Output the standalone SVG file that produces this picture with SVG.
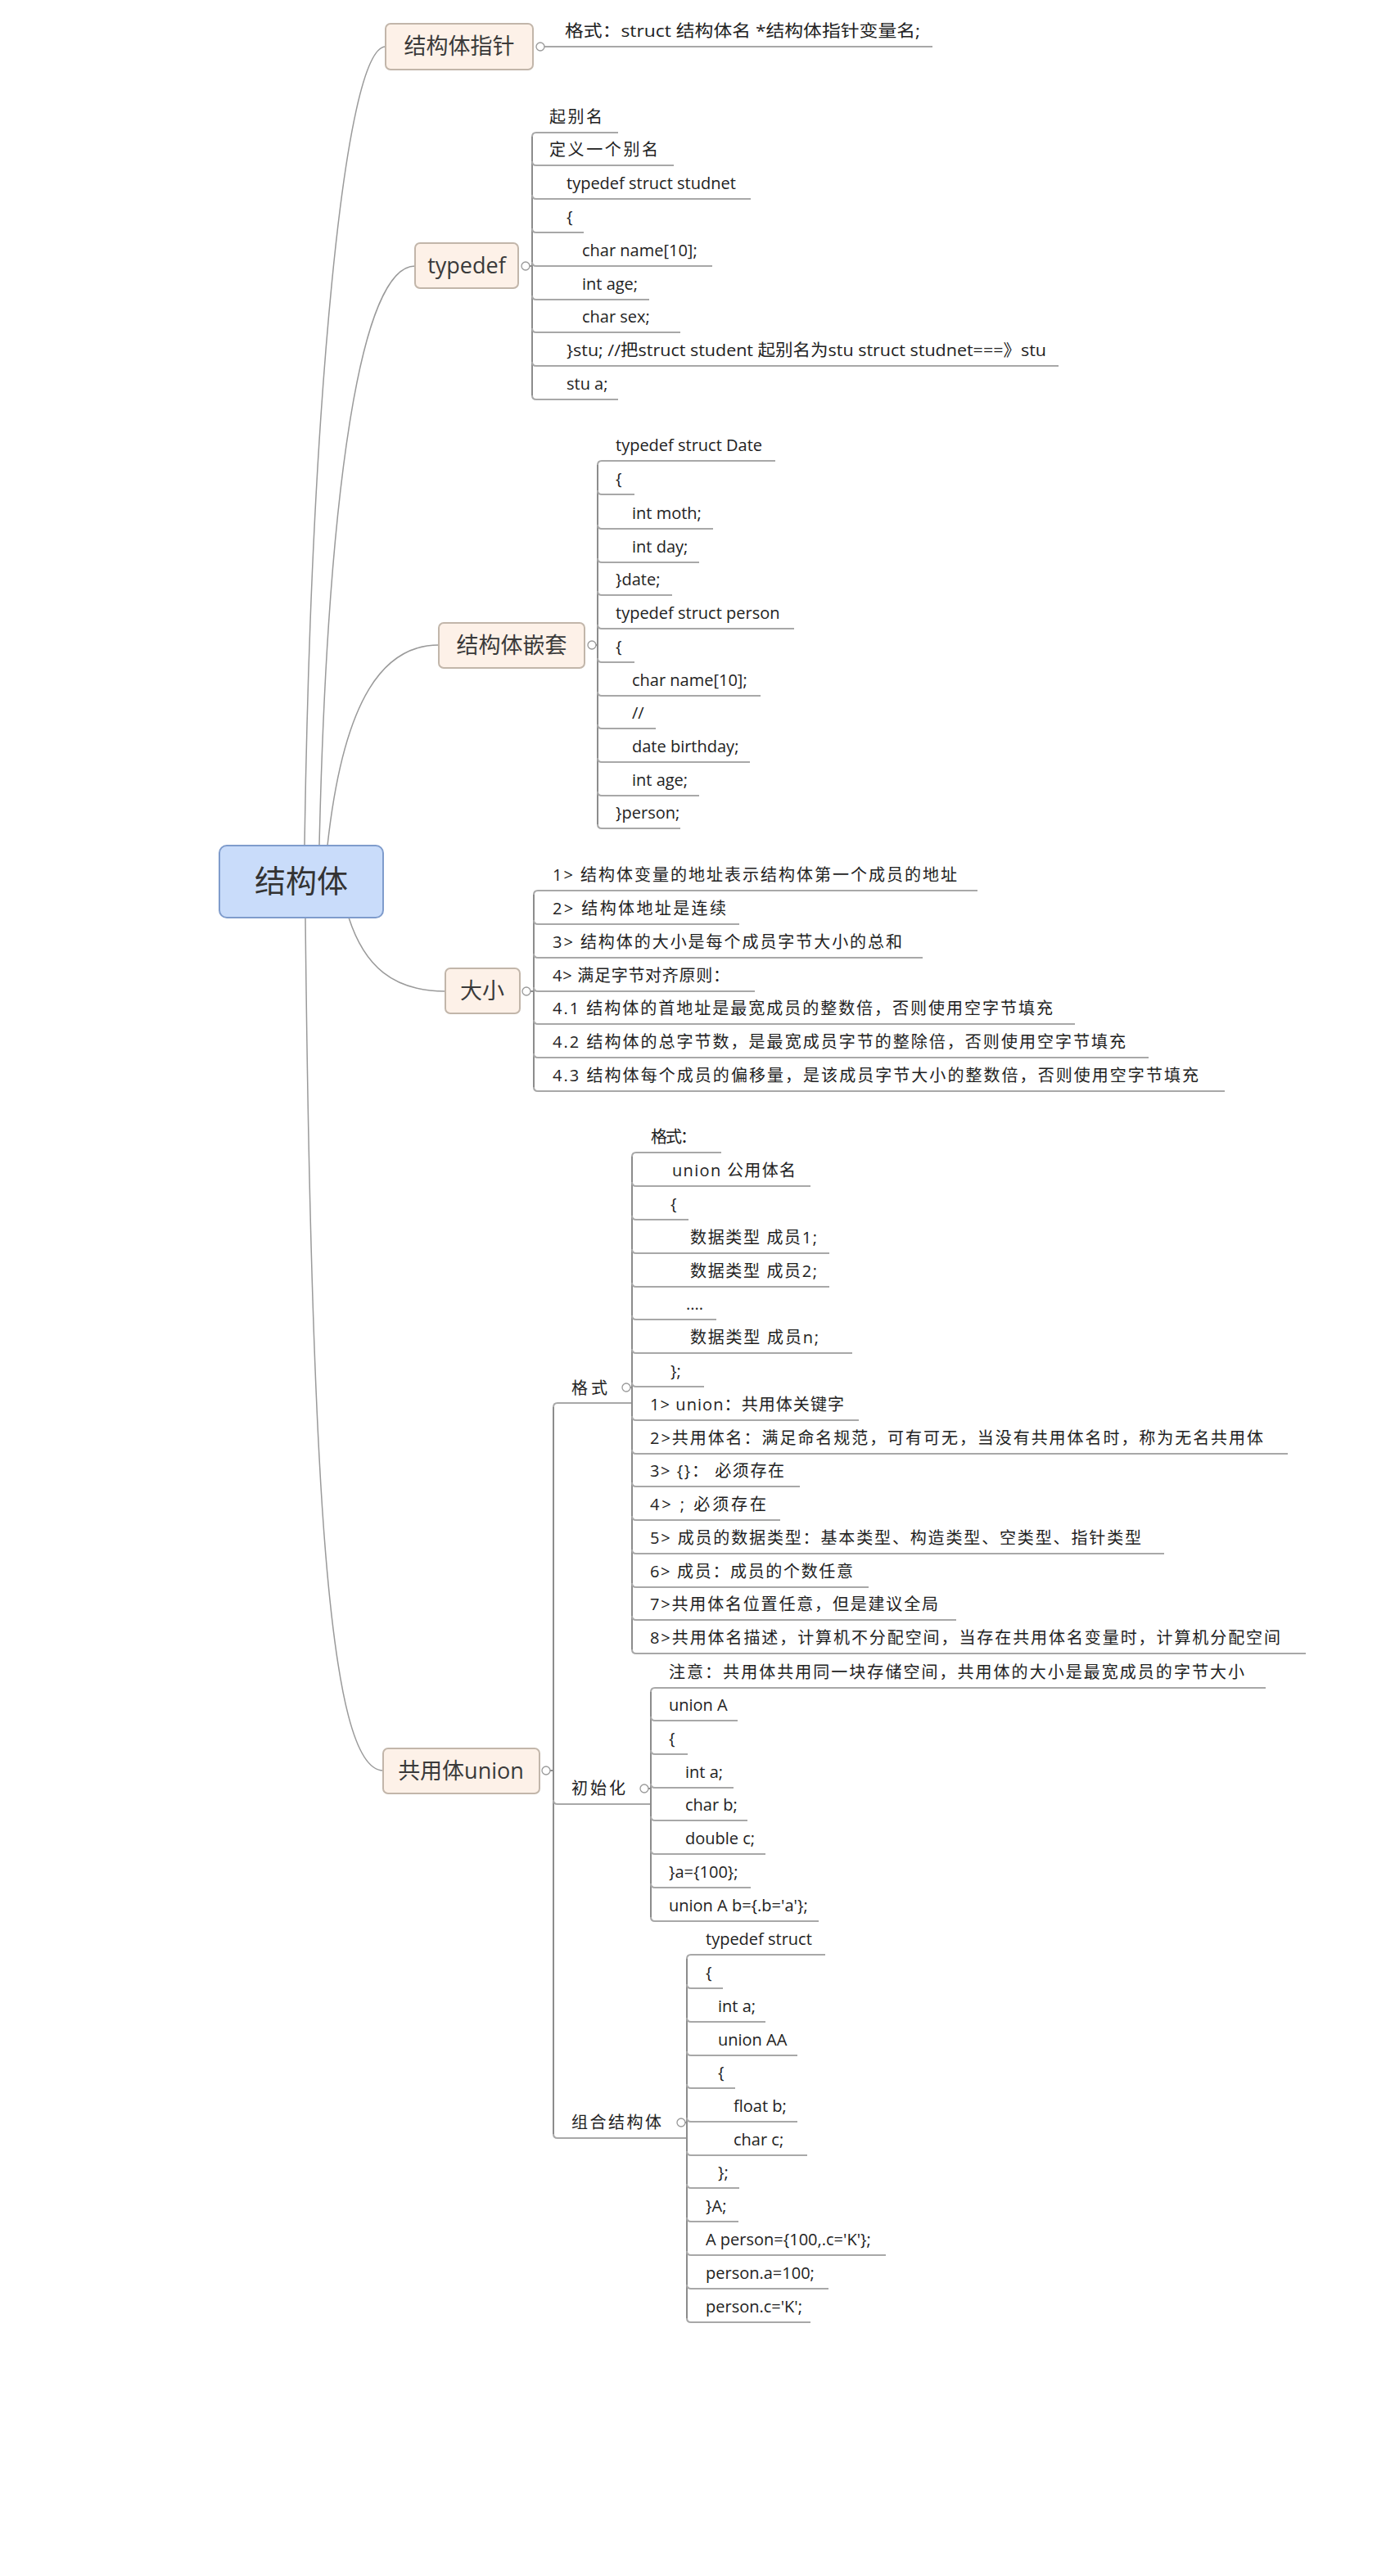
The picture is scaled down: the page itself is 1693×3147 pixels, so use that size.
<svg xmlns="http://www.w3.org/2000/svg" width="1693" height="3147" viewBox="0 0 1693 3147">
<style>
.t{font-family:"Open Sans","Noto Sans CJK SC",sans-serif;font-size:20px;fill:#222}
.b{font-family:"Open Sans","Noto Sans CJK SC",sans-serif;font-size:27px;fill:#3a3a3a}
.r{font-family:"Noto Sans CJK SC",sans-serif;font-size:38px;fill:#333}
.box{fill:#fdf1e8;stroke:#c2b6aa;stroke-width:2}
.ul{fill:none;stroke:#a8a8a8;stroke-width:2}
.vl{fill:none;stroke:#8c8c8c;stroke-width:2}
.mc{fill:none;stroke:#9a9a9a;stroke-width:1.5}
.cc{fill:#fff;stroke:#999;stroke-width:1.3}
</style>
<rect width="1693" height="3147" fill="#fff"/>
<g id="connectors">
<path class="mc" d="M372,1033 C380,500 420,57 471,57"/>
<path class="mc" d="M390,1033 C400,600 440,325 507,325"/>
<path class="mc" d="M400,1033 C420,850 470,788 536,788"/>
<path class="mc" d="M426,1121 C445,1180 480,1211 544,1211"/>
<path class="mc" d="M373,1121 C380,1800 400,2163 468,2163"/>
<!-- 结构体指针 -->
<path class="ul" d="M660,57 H1139"/>
<!-- typedef -->
<path class="vl" d="M642,325 H650 M650,167 V483"/>
<path class="ul" d="M650,167 Q650,162 655,162 H755 M650,197 Q650,202 655,202 H823 M650,238 Q650,243 655,243 H917 M650,279 Q650,284 655,284 H713 M650,320 Q650,325 655,325 H870 M650,361 Q650,366 655,366 H793 M650,401 Q650,406 655,406 H831 M650,442 Q650,447 655,447 H1293 M650,483 Q650,488 655,488 H755"/>
<!-- 嵌套 -->
<path class="vl" d="M723,788 H730 M730,568 V1007"/>
<path class="ul" d="M730,568 Q730,563 735,563 H947 M730,599 Q730,604 735,604 H775 M730,641 Q730,646 735,646 H871 M730,682 Q730,687 735,687 H854 M730,722 Q730,727 735,727 H821 M730,763 Q730,768 735,768 H970 M730,804 Q730,809 735,809 H775 M730,845 Q730,850 735,850 H929 M730,885 Q730,890 735,890 H801 M730,926 Q730,931 735,931 H916 M730,967 Q730,972 735,972 H854 M730,1007 Q730,1012 735,1012 H831"/>
<!-- 大小 -->
<path class="vl" d="M643,1211 H652 M652,1093 V1328"/>
<path class="ul" d="M652,1093 Q652,1088 657,1088 H1194 M652,1124 Q652,1129 657,1129 H903 M652,1165 Q652,1170 657,1170 H1127 M652,1206 Q652,1211 657,1211 H922 M652,1246 Q652,1251 657,1251 H1313 M652,1287 Q652,1292 657,1292 H1403 M652,1328 Q652,1333 657,1333 H1496"/>
<!-- 共用体union -->
<path class="vl" d="M667,2163 H676 M676,1719 V2607"/>
<path class="ul" d="M676,1719 Q676,1714 681,1714 H772 M676,2199 Q676,2204 681,2204 H795 M676,2607 Q676,2612 681,2612 H839"/>
<!-- 格式 -->
<path class="vl" d="M765,1695 H772 M772,1413 V2015"/>
<path class="ul" d="M772,1413 Q772,1408 777,1408 H881 M772,1444 Q772,1449 777,1449 H990 M772,1485 Q772,1490 777,1490 H841 M772,1526 Q772,1531 777,1531 H1013 M772,1567 Q772,1572 777,1572 H1013 M772,1607 Q772,1612 777,1612 H875 M772,1648 Q772,1653 777,1653 H1041 M772,1689 Q772,1694 777,1694 H860 M772,1730 Q772,1735 777,1735 H1049 M772,1771 Q772,1776 777,1776 H1573 M772,1811 Q772,1816 777,1816 H977 M772,1852 Q772,1857 777,1857 H953 M772,1893 Q772,1898 777,1898 H1422 M772,1934 Q772,1939 777,1939 H1061 M772,1974 Q772,1979 777,1979 H1168 M772,2015 Q772,2020 777,2020 H1595"/>
<!-- 初始化 -->
<path class="vl" d="M787,2185 H795 M795,2067 V2342"/>
<path class="ul" d="M795,2067 Q795,2062 800,2062 H1546 M795,2097 Q795,2102 800,2102 H901 M795,2138 Q795,2143 800,2143 H840 M795,2179 Q795,2184 800,2184 H896 M795,2219 Q795,2224 800,2224 H913 M795,2260 Q795,2265 800,2265 H935 M795,2301 Q795,2306 800,2306 H917 M795,2342 Q795,2347 800,2347 H1000"/>
<!-- 组合结构体 -->
<path class="vl" d="M832,2593 H839 M839,2393 V2832"/>
<path class="ul" d="M839,2393 Q839,2388 844,2388 H1008 M839,2424 Q839,2429 844,2429 H883 M839,2465 Q839,2470 844,2470 H935 M839,2506 Q839,2511 844,2511 H974 M839,2546 Q839,2551 844,2551 H898 M839,2587 Q839,2592 844,2592 H974 M839,2628 Q839,2633 844,2633 H986 M839,2668 Q839,2673 844,2673 H903 M839,2709 Q839,2714 844,2714 H902 M839,2750 Q839,2755 844,2755 H1082 M839,2791 Q839,2796 844,2796 H1012 M839,2832 Q839,2837 844,2837 H990"/>
</g>
<g id="root">
<rect x="268" y="1033" width="200" height="88" rx="9" fill="#c9dcfa" stroke="#7f9ccc" stroke-width="2"/>
<text class="r" x="368" y="1090" text-anchor="middle">结构体</text>
</g>
<g id="n-pointer">
<rect class="box" x="471" y="29" width="180" height="56" rx="6"/>
<text class="b" x="561" y="66" text-anchor="middle">结构体指针</text>
<circle class="cc" cx="660" cy="57" r="5"/>
<text class="t" x="690" y="45" textLength="434" lengthAdjust="spacingAndGlyphs">格式：struct  结构体名  *结构体指针变量名;</text>
</g>
<g id="n-typedef">
<rect class="box" x="507" y="297" width="126" height="55" rx="6"/>
<text class="b" x="570" y="334" text-anchor="middle">typedef</text>
<circle class="cc" cx="642" cy="325" r="5"/>
<text class="t" x="671" y="150" textLength="65">起别名</text>
<text class="t" x="671" y="190" textLength="133">定义一个别名</text>
<text class="t" x="692" y="231">typedef struct studnet</text>
<text class="t" x="692" y="272">{</text>
<text class="t" x="711" y="313">char name[10];</text>
<text class="t" x="711" y="354">int age;</text>
<text class="t" x="711" y="394">char sex;</text>
<text class="t" x="692" y="435" textLength="586" lengthAdjust="spacingAndGlyphs">}stu; //把struct student 起别名为stu   struct studnet===》stu</text>
<text class="t" x="692" y="476">stu a;</text>
</g>
<g id="n-nest">
<rect class="box" x="536" y="761" width="178" height="55" rx="6"/>
<text class="b" x="625" y="798" text-anchor="middle">结构体嵌套</text>
<circle class="cc" cx="723" cy="788" r="5"/>
<text class="t" x="752" y="551">typedef struct Date</text>
<text class="t" x="752" y="592">{</text>
<text class="t" x="772" y="634">int moth;</text>
<text class="t" x="772" y="675">int day;</text>
<text class="t" x="752" y="715">}date;</text>
<text class="t" x="752" y="756">typedef struct person</text>
<text class="t" x="752" y="797">{</text>
<text class="t" x="772" y="838">char name[10];</text>
<text class="t" x="772" y="878">//</text>
<text class="t" x="772" y="919">date birthday;</text>
<text class="t" x="772" y="960">int age;</text>
<text class="t" x="752" y="1000">}person;</text>
</g>
<g id="n-size">
<rect class="box" x="544" y="1183" width="91" height="55" rx="6"/>
<text class="b" x="589" y="1220" text-anchor="middle">大小</text>
<circle class="cc" cx="643" cy="1211" r="5"/>
<text class="t" x="675" y="1076" textLength="494">1&gt; 结构体变量的地址表示结构体第一个成员的地址</text>
<text class="t" x="675" y="1117" textLength="212">2&gt;  结构体地址是连续</text>
<text class="t" x="675" y="1158" textLength="427">3&gt; 结构体的大小是每个成员字节大小的总和</text>
<text class="t" x="675" y="1199" textLength="216">4&gt; 满足字节对齐原则：</text>
<text class="t" x="675" y="1239" textLength="611">4.1 结构体的首地址是最宽成员的整数倍，否则使用空字节填充</text>
<text class="t" x="675" y="1280" textLength="700">4.2 结构体的总字节数，是最宽成员字节的整除倍，否则使用空字节填充</text>
<text class="t" x="675" y="1321" textLength="789">4.3 结构体每个成员的偏移量，是该成员字节大小的整数倍，否则使用空字节填充</text>
</g>
<g id="n-union">
<rect class="box" x="468" y="2136" width="191" height="55" rx="6"/>
<text class="b" x="563" y="2173" text-anchor="middle">共用体union</text>
<circle class="cc" cx="667" cy="2163" r="5"/>
</g>
<g id="n-format">
<text class="t" x="698" y="1703" textLength="44">格式</text>
<circle class="cc" cx="765" cy="1695" r="5"/>
<text class="t" x="795" y="1396" textLength="56">格式：</text>
<text class="t" x="821" y="1437" textLength="151">union  公用体名</text>
<text class="t" x="819" y="1478">{</text>
<text class="t" x="843" y="1519" textLength="155">数据类型 成员1;</text>
<text class="t" x="843" y="1560" textLength="155">数据类型 成员2;</text>
<text class="t" x="838" y="1600">....</text>
<text class="t" x="843" y="1641" textLength="157">数据类型 成员n;</text>
<text class="t" x="819" y="1682">};</text>
<text class="t" x="794" y="1723" textLength="237">1&gt; union：共用体关键字</text>
<text class="t" x="794" y="1764" textLength="749">2&gt;共用体名：满足命名规范，可有可无，当没有共用体名时，称为无名共用体</text>
<text class="t" x="794" y="1804" textLength="164">3&gt; {}：  必须存在</text>
<text class="t" x="794" y="1845" textLength="142">4&gt; ;   必须存在</text>
<text class="t" x="794" y="1886" textLength="600">5&gt; 成员的数据类型：基本类型、构造类型、空类型、指针类型</text>
<text class="t" x="794" y="1927" textLength="248">6&gt; 成员：成员的个数任意</text>
<text class="t" x="794" y="1967" textLength="352">7&gt;共用体名位置任意，但是建议全局</text>
<text class="t" x="794" y="2008" textLength="770">8&gt;共用体名描述，计算机不分配空间，当存在共用体名变量时，计算机分配空间</text>
</g>
<g id="n-init">
<text class="t" x="698" y="2192" textLength="66">初始化</text>
<circle class="cc" cx="787" cy="2185" r="5"/>
<text class="t" x="817" y="2050" textLength="703">注意：共用体共用同一块存储空间，共用体的大小是最宽成员的字节大小</text>
<text class="t" x="817" y="2090">union A</text>
<text class="t" x="817" y="2131">{</text>
<text class="t" x="837" y="2172">int a;</text>
<text class="t" x="837" y="2212">char b;</text>
<text class="t" x="837" y="2253">double c;</text>
<text class="t" x="817" y="2294">}a={100};</text>
<text class="t" x="817" y="2335">union A b={.b='a'};</text>
</g>
<g id="n-combo">
<text class="t" x="698" y="2600" textLength="110">组合结构体</text>
<circle class="cc" cx="832" cy="2593" r="5"/>
<text class="t" x="862" y="2376">typedef struct</text>
<text class="t" x="862" y="2417">{</text>
<text class="t" x="877" y="2458">int a;</text>
<text class="t" x="877" y="2499">union AA</text>
<text class="t" x="877" y="2539">{</text>
<text class="t" x="896" y="2580">float b;</text>
<text class="t" x="896" y="2621">char c;</text>
<text class="t" x="877" y="2661">};</text>
<text class="t" x="862" y="2702">}A;</text>
<text class="t" x="862" y="2743">A person={100,.c='K'};</text>
<text class="t" x="862" y="2784">person.a=100;</text>
<text class="t" x="862" y="2825">person.c='K';</text>
</g>
</svg>
